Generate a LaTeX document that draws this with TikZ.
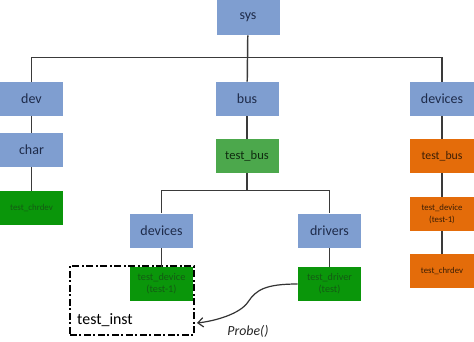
\documentclass[tikz,border=0pt]{standalone}
\usepackage{fontspec}
\setmainfont{Carlito}
\usetikzlibrary{arrows.meta}
\definecolor{boxblue}{HTML}{7F9ED0}
\definecolor{bluetext}{HTML}{1E2B4A}
\definecolor{dkgreen}{HTML}{0A960A}
\definecolor{dkgreentext}{HTML}{145A14}
\definecolor{ltgreen}{HTML}{4CA84C}
\definecolor{ltgreentext}{HTML}{0F2A0F}
\definecolor{boxorange}{HTML}{E46C0A}
\definecolor{orangetext}{HTML}{3B1E05}
\definecolor{linegray}{HTML}{3A3A3A}
\begin{document}
\begin{tikzpicture}[x=0.75pt,y=-0.75pt,
  basebox/.style={inner sep=0pt, minimum width=47.25pt, minimum height=25.5pt, align=center},
  bluebox/.style={basebox, fill=boxblue, text=bluetext, font=\fontsize{10.5}{12}\selectfont},
  dgbox/.style={basebox, fill=dkgreen, text=dkgreentext},
  lgbox/.style={basebox, fill=ltgreen, text=ltgreentext},
  orbox/.style={basebox, fill=boxorange, text=orangetext},
  conn/.style={draw=linegray, line width=1.1pt},
  dashdotbox/.style={draw=black, line width=1.5pt, dash pattern=on 5pt off 2pt on 1.5pt off 2pt, inner sep=0pt, minimum width=93pt, minimum height=51.75pt}
]
\useasboundingbox (0,0) rectangle (474,342);

% top
\node[bluebox, minimum height=26.25pt] (sys) at (248,17.5) {sys};
\node[bluebox] (dev) at (31.5,99) {dev};
\node[bluebox] (bus) at (247,99) {bus};
\node[bluebox, minimum width=48pt] (devR) at (442,99) {devices};

% left column
\node[bluebox] (char) at (31.5,150) {char};
\node[dgbox, font=\fontsize{6.7}{8}\selectfont] (chrdev) at (31.5,208) {test\_chrdev};

% middle
\node[lgbox, font=\fontsize{9.4}{11}\selectfont] (tbus) at (247,156) {test\_bus};
\node[bluebox] (devM) at (161.5,230.5) {devices};
\node[bluebox] (drv) at (329.5,230.5) {drivers};
\node[dgbox, font=\fontsize{7.7}{9}\selectfont] (tdev) at (161.5,284) {test\_device\\(test-1)};
\node[dgbox, font=\fontsize{7.6}{9}\selectfont] (tdrv) at (329.5,284) {test\_driver\\(test)};

% right column
\node[orbox, minimum width=48pt, font=\fontsize{8.8}{10}\selectfont] (otbus) at (442,156) {test\_bus};
\node[orbox, minimum width=48pt, font=\fontsize{6.6}{8.5}\selectfont] (odev) at (442,214) {test\_device\\(test-1)};
\node[orbox, minimum width=48pt, font=\fontsize{6.6}{8}\selectfont] (ochr) at (442,271) {test\_chrdev};

% instance box
\node[dashdotbox] (inst) at (132,300.5) {};
\node[font=\fontsize{11.9}{14}\selectfont, text=black] (instlabel) at (105,320) {test\_inst};
\node[font=\fontsize{10.4}{12}\selectfont\itshape, text=black!85] (probe) at (248,331) {Probe()};

% connectors
\draw[conn] (sys) -- (bus);
\draw[conn] (dev.north) -- ++(0,-24) -| (devR.north);
\draw[conn] (dev) -- (char);
\draw[conn] (char) -- (chrdev);
\draw[conn] (bus) -- (tbus);
\draw[conn] (tbus.south) -- ++(0,17);
\draw[conn] (devM.north) -- ++(0,-23) -| (drv.north);
\draw[conn] (devM) -- (tdev);
\draw[conn] (drv) -- (tdrv);
\draw[conn] (devR) -- (otbus);
\draw[conn] (otbus) -- (odev);
\draw[conn] (odev) -- (ochr);

\coordinate (probeend) at (197,323);
\draw[black!80, line width=0.9pt, -{Straight Barb[length=4pt,width=7pt]}]
  (tdrv.west) .. controls (265,284) and (256,290) .. (248,302)
  .. controls (240,314) and (215,321) .. (probeend);
\end{tikzpicture}
\end{document}
